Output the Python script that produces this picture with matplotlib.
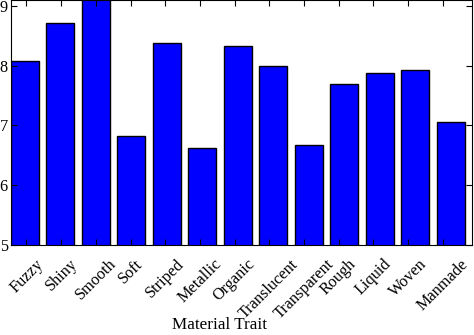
import matplotlib
matplotlib.use('Agg')
import matplotlib.pyplot as plt

traits = ['Fuzzy', 'Shiny', 'Smooth', 'Soft', 'Striped', 'Metallic', 'Organic',
          'Translucent', 'Transparent', 'Rough', 'Liquid', 'Woven', 'Manmade']
scores = [8.08, 8.72, 9.3, 6.83, 8.38, 6.62, 8.33, 8.0, 6.67, 7.7, 7.87, 7.93, 7.05]

plt.rcParams['font.family'] = ['Liberation Serif', 'DejaVu Serif']

fig = plt.figure(figsize=(4.74, 3.35), dpi=100)
ax = fig.add_axes([10.5 / 474, 90 / 335, 461.5 / 474, 245 / 335])

pos = range(len(traits))
ax.bar(pos, scores, width=0.8, align='edge', color='#0000ff', edgecolor='k', lw=1)

ax.set_xlim(0, len(traits))
ax.set_ylim(5, 9.1)
ax.set_yticks([5, 6, 7, 8, 9])
# tick labels drift slightly left of the bar centres in the original
ax.set_xticks([0.45 + 0.977 * p for p in pos])
ax.set_xticklabels(traits, rotation=45)
ax.tick_params(direction='in', top=True, right=True, labelsize=11.7, length=4)
ax.tick_params(axis='x', pad=8)
ax.tick_params(axis='y', pad=2)
ax.set_xlabel('Material Trait', fontsize=12.3)
ax.xaxis.label.set_va('center')
ax.xaxis.set_label_coords((219 - 10) / 462, -80 / 245)

fig.savefig('out.png', dpi=100)
